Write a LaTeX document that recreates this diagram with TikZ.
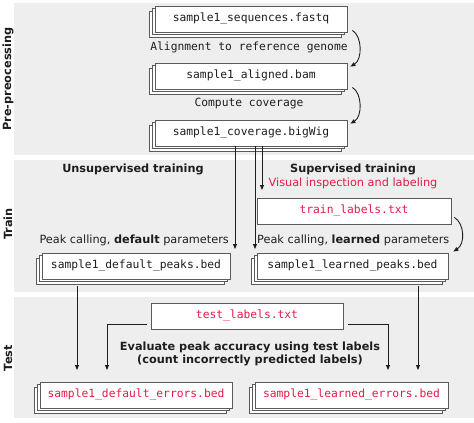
\documentclass[tikz,border=0pt]{standalone}
\usepackage{fontspec}
\setmainfont{DejaVu Sans}
\setmonofont{DejaVu Sans Mono}
\usetikzlibrary{arrows.meta,calc}
\definecolor{panelgray}{RGB}{238,238,238}
\definecolor{labred}{RGB}{228,28,72}
\definecolor{boxgray}{RGB}{90,90,90}
\definecolor{ink}{RGB}{30,30,30}
\tikzset{
  fsz/.style={font=\fontsize{11.3}{13}\selectfont},
  panel/.style={fill=panelgray,draw=none},
  filebox/.style={draw=boxgray,line width=0.8pt,fill=white,inner sep=0pt,
    minimum height=26pt,fsz,font=\fontsize{11.3}{13}\selectfont\ttfamily,text=ink},
  stackbox/.style={filebox,
    preaction={draw=boxgray,fill=white,transform canvas={shift={(-5.6pt,-5.6pt)}}},
    preaction={draw=boxgray,fill=white,transform canvas={shift={(-2.8pt,-2.8pt)}}}},
  redtext/.style={text=labred},
  lbl/.style={fsz,text=ink,inner sep=0pt},
  sidelbl/.style={font=\fontsize{11.3}{13}\selectfont\bfseries,text=ink,rotate=90,inner sep=0pt},
  conn/.style={draw=ink,line width=0.9pt,-{Triangle[length=5pt,width=4pt]}},
}
\begin{document}
\begin{tikzpicture}[x=1pt,y=-1pt]
\useasboundingbox (0,0) rectangle (474,423);
\fill[white] (0,0) rectangle (474,423);
% panels
\path[panel] (14,3) rectangle (474,155);
\path[panel] (14,160) rectangle (474,292);
\path[panel] (14,297) rectangle (474,418);
% side labels
\node[sidelbl] (lpre) at (8,79) {Pre-preocessing};
\node[sidelbl] (ltrain) at (8,224) {Train};
\node[sidelbl] (ltest) at (8,358) {Test};
% pre-processing
\node[stackbox,minimum width=192pt] (fastq) at (251,19) {sample1\_sequences.fastq};
\node[stackbox,minimum width=192pt] (bam) at (251,76) {sample1\_aligned.bam};
\node[stackbox,minimum width=192pt] (bigwig) at (251,133) {sample1\_coverage.bigWig};
\node[lbl,font=\fontsize{11.3}{13}\selectfont\ttfamily] (align) at (249,47) {Alignment to reference genome};
\node[lbl,font=\fontsize{11.3}{13}\selectfont\ttfamily] (cover) at (249,104) {Compute coverage};
\draw[conn] ($(fastq.south east)+(5,-2)$) .. controls +(10,6) and +(12,-7) .. ($(bam.north east)+(3,4)$);
\draw[conn] ($(bam.south east)+(5,-2)$) .. controls +(10,6) and +(12,-7) .. ($(bigwig.north east)+(3,4)$);
% train
\node[lbl,font=\fontsize{11.3}{13}\selectfont\bfseries] (unsup) at (133,169) {Unsupervised training};
\node[lbl,font=\fontsize{11.3}{13}\selectfont\bfseries] (sup) at (353,169) {Supervised training};
\node[lbl,redtext] (visual) at (353,183) {Visual inspection and labeling};
\node[filebox,minimum width=194pt,redtext] (trainlab) at (354,211) {train\_labels.txt};
\node[lbl,anchor=east] (pcdef) at (229,240) {Peak calling, \textbf{default} parameters};
\node[lbl,anchor=west] (pclrn) at (257,240) {Peak calling, \textbf{learned} parameters};
\node[stackbox,minimum width=188pt] (defpeaks) at (136,266) {sample1\_default\_peaks.bed};
\node[stackbox,minimum width=191pt] (lrnpeaks) at (352.5,266) {sample1\_learned\_peaks.bed};
\coordinate (t1) at (235,249);
\coordinate (t2) at (255,249);
\coordinate (t3) at (262,190);
\draw[conn] (bigwig.south -| t1) -- (t1);
\draw[conn] (bigwig.south -| t2) -- (t2);
\draw[conn] (bigwig.south -| t3) -- (t3);
\draw[conn] ($(trainlab.south east)+(3,-7)$) .. controls +(10,6) and +(12,-8) .. ($(lrnpeaks.north east)+(5,-1)$);
% test
\node[filebox,minimum width=192pt,redtext] (testlab) at (247,316) {test\_labels.txt};
\node[lbl,font=\fontsize{11.3}{13}\selectfont\bfseries] (eval1) at (250,347) {Evaluate peak accuracy using test labels};
\node[lbl,font=\fontsize{11.3}{13}\selectfont\bfseries] (eval2) at (250,360) {(count incorrectly predicted labels)};
\node[stackbox,minimum width=192pt,redtext] (deferr) at (136,395) {sample1\_default\_errors.bed};
\node[stackbox,minimum width=193pt,redtext] (lrnerr) at (351.5,395) {sample1\_learned\_errors.bed};
\coordinate (s1) at (77,286);
\coordinate (s4) at (418,286);
\coordinate (e1) at (77,370);
\coordinate (e2) at (107,370);
\coordinate (e3) at (388,370);
\coordinate (e4) at (418,370);
\draw[conn] (s1) -- (e1);
\draw[conn] (s4) -- (e4);
\draw[conn] ($(testlab.south west)+(-4,-5)$) -| (e2);
\draw[conn] ($(testlab.south east)+(5,-5)$) -| (e3);
\end{tikzpicture}
\end{document}
